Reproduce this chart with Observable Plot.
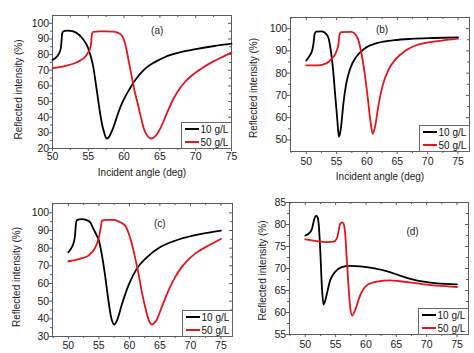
<!DOCTYPE html>
<html>
<head>
<meta charset="utf-8">
<script src="https://cdn.jsdelivr.net/npm/d3@7"></script>
<script src="https://cdn.jsdelivr.net/npm/@observablehq/plot@0.6"></script>
<style>
  html, body { margin: 0; padding: 0; background: #fff; }
  #root { position: relative; width: 474px; height: 353px; overflow: hidden; background: #fff;
          font-family: "Liberation Sans", Arial, sans-serif; }
  .panel { position: absolute; overflow: visible; }
  .legend { position: absolute; box-sizing: border-box; border: 1px solid #666; background: #fff;
            font-size: 10px; color: #111; }
  .legend .row { position: absolute; left: 0; height: 12px; display: flex; align-items: center; }
  .legend .sw { display: inline-block; width: 14px; height: 2px; margin-left: 3px; margin-right: 2px; }
</style>
</head>
<body>
<div id="root"></div>
<script>
// ---------- series / text ----------
const seriesLabels = ["10 g/L", "50 g/L"];
const seriesColors = ["#000000", "#e3141b"];
const axisTitleX = "Incident angle (deg)";
const axisTitleY = "Reflected intensity (%)";
const panelTags = ["(a)", "(b)", "(c)", "(d)"];

// ---------- tick values ----------
const xTicks = [50, 55, 60, 65, 70, 75];
const xMinorA = [52.5, 57.5, 62.5, 67.5, 72.5];
const xMinorBCD = [47.5, 52.5, 57.5, 62.5, 67.5, 72.5];
const yTicksA = [20, 30, 40, 50, 60, 70, 80, 90, 100];
const yMinorA = [25, 35, 45, 55, 65, 75, 85, 95];
const yTicksB = [50, 60, 70, 80, 90, 100];
const yMinorB = [55, 65, 75, 85, 95];
const yTicksC = [30, 40, 50, 60, 70, 80, 90, 100];
const yMinorC = [35, 45, 55, 65, 75, 85, 95];
const yTicksD = [55, 60, 65, 70, 75, 80, 85];
const yMinorD = [57.5, 62.5, 67.5, 72.5, 77.5, 82.5];

// ---------- axis domains ----------
const xDomainA = [50, 75];
const xDomainBCD = [47.4, 76.9];
const yDomainA = [20, 105];
const yDomainB = [44.8, 105];
const yDomainC = [30, 105.3];
const yDomainD = [55, 85];

// ---------- data: [angle (deg), reflected intensity (%)] ----------
const a10 = [[50,76.5],[50.5,78.2],[50.9,80.6],[51.15,83.8],[51.25,88],[51.35,93.6],[51.5,94.8],[52.0,95.3],[52.5,95.2],[53.0,94.7],[53.6,93],[54.1,90.8],[54.5,88.3],[54.8,86],[55.1,82.5],[55.4,78],[55.7,72],[56.0,63],[56.3,53.5],[56.6,44],[56.9,36],[57.2,30.5],[57.55,26.4],[57.8,26.9],[58.1,29.2],[58.5,33.5],[58.8,37.5],[59.2,43],[59.7,48.8],[60.2,53.5],[60.7,57.5],[61.3,62],[61.8,65.2],[62.5,69],[63.2,72],[64.0,74.5],[64.6,76],[65.5,78],[66.5,79.8],[67.9,81.6],[69.8,83.3],[72.6,85.5],[75,87]];
const a50 = [[50,71.4],[51,72],[52,72.9],[53,74.3],[53.8,76],[54.5,78.3],[55.0,81.5],[55.3,84.6],[55.42,88.5],[55.52,93.5],[55.7,94.6],[56.5,94.9],[57.5,94.9],[58.3,94.7],[59.0,94.2],[59.7,92.1],[60.2,86],[60.66,75.5],[61.13,64.5],[61.5,56],[61.8,50.5],[62.3,41],[62.75,32.8],[63.3,27.8],[63.8,26.4],[64.4,28],[65.1,33.2],[66.0,42.8],[66.9,51.8],[67.8,58.5],[68.5,62.5],[69.3,66],[70.2,69.2],[71.2,72.3],[72.3,75.2],[73.5,78],[75,81.3]];
const b10 = [[50,85.7],[50.55,87.8],[51.0,90.5],[51.2,93.5],[51.37,97.5],[51.64,98.7],[52.5,98.8],[53.0,98.3],[53.6,96.3],[54.0,91],[54.4,82],[54.77,70],[55.1,59.5],[55.38,51.4],[55.6,53.5],[55.8,57.5],[56.1,66],[56.6,75.5],[57.3,82.5],[58.2,87.2],[59.6,91],[61.8,93.6],[64.5,94.8],[67.3,95.4],[71,95.8],[75,96.1]];
const b50 = [[50,83.5],[51.9,83.5],[53.3,84.4],[54.1,86.2],[54.9,89.3],[55.3,93],[55.48,97.2],[55.76,98.4],[57.4,98.5],[57.95,97.8],[58.5,95.5],[59.05,89.5],[59.6,80.5],[60.15,68.5],[60.6,58],[60.95,52.7],[61.35,56.2],[61.9,65.5],[62.6,74.5],[63.5,81.2],[64.8,86.5],[66.2,89.8],[67.9,92.3],[71.7,94.4],[75,95.5]];
const c10 = [[50,77.7],[50.55,80.4],[50.9,83.5],[51.1,87.5],[51.22,93],[51.4,95.9],[52.2,96.5],[53.0,95.9],[53.6,94.5],[54.1,91],[54.6,87.5],[55.0,84.3],[55.5,76],[56.0,65],[56.5,52],[57.0,41],[57.5,36.8],[57.96,39],[58.8,48.5],[59.85,58.9],[61.2,68.3],[62.9,74.9],[65.0,80.5],[67.2,83.9],[68.3,85.2],[71.6,88],[75,90]];
const c50 = [[50,72.6],[51.9,74],[53.3,75.8],[54.4,80.3],[54.95,85.3],[55.3,91.5],[55.5,95.6],[56.3,96],[57.4,96],[58.2,95.2],[59.3,92.8],[60.1,86.2],[60.8,76.8],[61.5,65.5],[62.0,56],[62.6,46.6],[63.1,40],[63.7,36.8],[64.4,39],[65.3,46.6],[66.4,56],[67.5,63.6],[68.3,68],[69.5,73],[71,77.5],[73,81.5],[75,85.2]];
const d10 = [[50,77.5],[50.55,77.9],[51.1,79],[51.5,81.3],[51.8,82],[52.05,81.5],[52.25,79.5],[52.47,74.1],[52.74,65.8],[53.0,61.8],[53.2,62.3],[53.45,63.6],[54.1,67.3],[54.9,69.2],[56.0,70.3],[57.4,70.6],[59.05,70.5],[61.2,70.1],[63.4,69.4],[65.6,68.4],[67.5,67.6],[69.5,67],[71.7,66.6],[75,66.4]];
const d50 = [[50,76.6],[51.9,76.2],[53.6,76],[54.65,76.1],[55.2,76.8],[55.5,78.6],[55.76,80.2],[56.1,80.5],[56.4,79.8],[56.6,77.5],[56.8,73],[57.1,66.5],[57.4,61.2],[57.73,59.3],[58.2,60.5],[59.05,63.9],[60.1,66.1],[61.8,67],[64,67.3],[65.6,67.1],[67.5,66.8],[69.5,66.4],[71.7,66.1],[75,65.8]];

// ---------- panel layout (page px) ----------
const panels = [
  {series:[a10,a50], tag:panelTags[0], xDomain:xDomainA, yDomain:yDomainA, xT:xTicks, xM:xMinorA, yT:yTicksA, yM:yMinorA,
   left:0, top:0, width:237, height:185, mt:15, mr:6, mb:37, ml:52, xPad:1, yPad:0.3,
   tagDx:104.7, tagDy:15.5, xTitleDy:24, yTitleDx:-34, yTitleDy:7.5, showX:true},
  {series:[b10,b50], tag:panelTags[1], xDomain:xDomainBCD, yDomain:yDomainB, xT:xTicks, xM:xMinorBCD, yT:yTicksB, yM:yMinorB,
   left:237, top:0, width:237, height:185, mt:17, mr:5, mb:34, ml:53, xPad:3.5, yPad:0.3,
   tagDx:91.5, tagDy:12, xTitleDy:25.3, yTitleDx:-36.3, yTitleDy:3.5, showX:true},
  {series:[c10,c50], tag:panelTags[2], xDomain:xDomainBCD, yDomain:yDomainC, xT:xTicks, xM:xMinorBCD, yT:yTicksC, yM:yMinorC,
   left:0, top:185, width:237, height:168, mt:18, mr:5, mb:17, ml:52, xPad:2.5, yPad:0.3,
   tagDx:107.3, tagDy:20.3, xTitleDy:28, yTitleDx:-35.3, yTitleDy:7, showX:false},
  {series:[d10,d50], tag:panelTags[3], xDomain:xDomainBCD, yDomain:yDomainD, xT:xTicks, xM:xMinorBCD, yT:yTicksD, yM:yMinorD,
   left:237, top:185, width:237, height:168, mt:17, mr:6, mb:19, ml:52, xPad:3.5, yPad:0.3,
   tagDx:123, tagDy:29, xTitleDy:28, yTitleDx:-27, yTitleDy:2, showX:false}
];

const frameColor = "#5a5a5a";
const textColor = "#1a1a1a";
const root = document.getElementById("root");

for (const p of panels) {
  const innerW = p.width - p.ml - p.mr;
  const innerH = p.height - p.mt - p.mb;
  const marks = [
    Plot.frame({stroke: frameColor, strokeWidth: 1}),
    // bottom/left outward ticks with labels
    Plot.axisX(p.xT, {anchor: "bottom", tickSize: 3, tickPadding: p.xPad, stroke: frameColor, fill: textColor, label: null, fontSize: 10.5}),
    Plot.axisX(p.xM, {anchor: "bottom", tickSize: 2, stroke: frameColor, fill: "none", label: null}),
    Plot.axisY(p.yT, {anchor: "left", tickSize: 3, tickPadding: p.yPad, stroke: frameColor, fill: textColor, label: null, fontSize: 10.5}),
    Plot.axisY(p.yM, {anchor: "left", tickSize: 2, stroke: frameColor, fill: "none", label: null}),
    // mirrored inward ticks on top and right
    Plot.tickX(p.xT, {x: d => d, stroke: frameColor, insetBottom: innerH - 3}),
    Plot.tickX(p.xM, {x: d => d, stroke: frameColor, insetBottom: innerH - 2}),
    Plot.tickY(p.yT, {y: d => d, stroke: frameColor, insetLeft: innerW - 3}),
    Plot.tickY(p.yM, {y: d => d, stroke: frameColor, insetLeft: innerW - 2}),
    // curves
    ...p.series.map((s, i) => Plot.line(s, {x: d => d[0], y: d => d[1], stroke: seriesColors[i], strokeWidth: 1.8, curve: "monotone-x"})),
    // panel tag
    Plot.text([p.tag], {frameAnchor: "top-left", dx: p.tagDx, dy: p.tagDy, textAnchor: "middle", lineAnchor: "middle", fontSize: 10, fill: textColor}),
    // y axis title
    Plot.text([axisTitleY], {frameAnchor: "left", rotate: -90, dx: p.yTitleDx, dy: p.yTitleDy, textAnchor: "middle", lineAnchor: "middle", fontSize: 10, fill: textColor})
  ];
  if (p.showX) {
    marks.push(Plot.text([axisTitleX], {frameAnchor: "bottom", dy: p.xTitleDy, textAnchor: "middle", lineAnchor: "middle", fontSize: 10, fill: textColor}));
  }
  const svg = Plot.plot({
    width: p.width, height: p.height,
    marginTop: p.mt, marginRight: p.mr, marginBottom: p.mb, marginLeft: p.ml,
    x: {domain: p.xDomain},
    y: {domain: p.yDomain},
    style: {fontFamily: "'Liberation Sans', Arial, sans-serif", fontSize: "10.5px", color: textColor, background: "transparent", overflow: "visible"},
    marks
  });
  svg.classList.add("panel");
  svg.style.left = p.left + "px";
  svg.style.top = p.top + "px";
  root.appendChild(svg);

  // legend box, anchored at frame's bottom-right corner
  const lg = document.createElement("div");
  lg.className = "legend";
  const lw = 51, lh = 27;
  lg.style.width = lw + "px";
  lg.style.height = lh + "px";
  lg.style.left = (p.left + p.width - p.mr - lw + 0.5) + "px";
  lg.style.top = (p.top + p.height - p.mb - lh + 0.5) + "px";
  seriesLabels.forEach((name, i) => {
    const row = document.createElement("div");
    row.className = "row";
    row.style.top = (i === 0 ? 0.5 : 13.5) + "px";
    const sw = document.createElement("span");
    sw.className = "sw";
    sw.style.background = seriesColors[i];
    row.appendChild(sw);
    const t = document.createElement("span");
    t.textContent = name;
    row.appendChild(t);
    lg.appendChild(row);
  });
  root.appendChild(lg);
}
</script>
</body>
</html>
